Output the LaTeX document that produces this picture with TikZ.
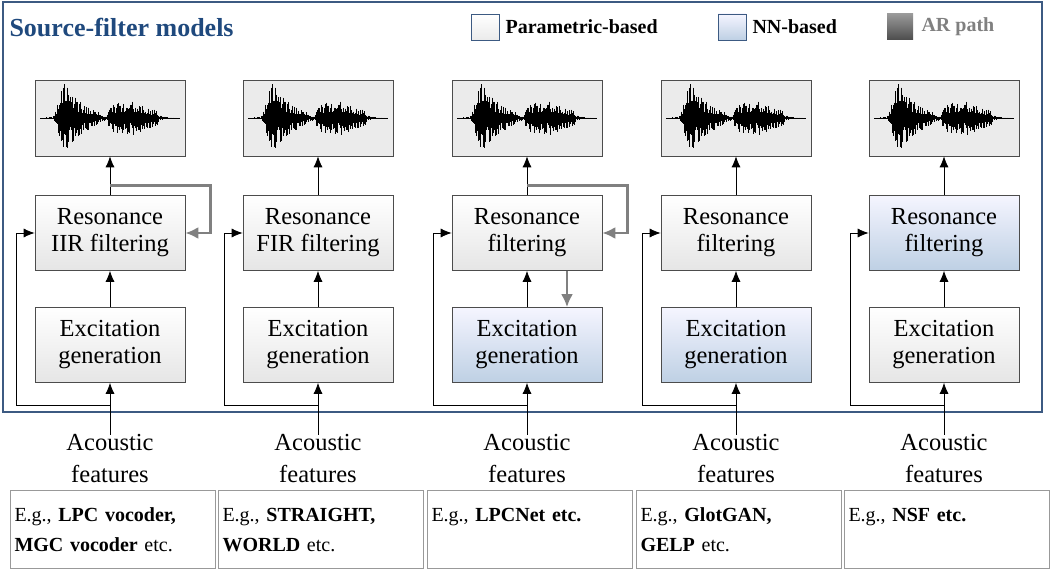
\documentclass[tikz,border=0pt]{standalone}
\usepackage{fontspec}
\setmainfont{Liberation Serif}
\newfontfamily\tms{Liberation Serif}
\usetikzlibrary{arrows.meta,calc}
\definecolor{ttl}{RGB}{31,73,125}
\definecolor{frm}{RGB}{60,90,130}
\definecolor{arg}{RGB}{128,128,128}
\tikzset{
  x=1pt,y=-1pt,
  pbox/.style={draw=black!70,line width=0.6pt,top color=white,bottom color=black!10,minimum width=150pt,minimum height=75pt,align=center,font=\tms\fontsize{24.5}{30}\selectfont,inner sep=0pt},
  nbox/.style={pbox,top color=blue!4!white,bottom color={rgb,255:red,190;green,208;blue,228}},
  wbox/.style={draw=black!70,line width=0.6pt,fill=black!8,minimum width=150pt,minimum height=76pt,inner sep=0pt},
  ebox/.style={draw=black!40,line width=1.2pt,minimum width=205pt,minimum height=78pt,text width=197pt,align=left,font=\tms\fontsize{20}{30}\selectfont,anchor=north,inner sep=3pt},
  arr/.style={-{Latex[length=11pt,width=9pt]},line width=0.8pt},
  gar/.style={-{Latex[length=13pt,width=12pt]},line width=2.6pt,draw=arg},
}
\newcommand{\mywave}[2]{%
  \pgfmathsetseed{7}
  \draw[line width=0.5pt] (#1-70,#2)--(#1+70,#2);
  \foreach \i in {0,...,130}{
    \ifnum\i<6 \def\env{1}\else
    \ifnum\i<18 \pgfmathsetmacro{\env}{36*(\i-6)/12}\else
    \ifnum\i<55 \pgfmathsetmacro{\env}{36*exp(-(\i-18)/22)}\else
    \ifnum\i<62 \def\env{3}\else
    \ifnum\i<112 \pgfmathsetmacro{\env}{13*exp(-((\i-80)/24)^2)+5}\else
    \pgfmathsetmacro{\env}{4*exp(-(\i-112)/6)}\fi\fi\fi\fi\fi
    \pgfmathsetmacro{\a}{\env*(0.3+0.7*rnd)}
    \pgfmathsetmacro{\b}{\env*(0.3+0.7*rnd)}
    \draw[line width=0.9pt] (#1-64+\i,#2-\a)--(#1-64+\i,#2+\b);
  }}
\begin{document}
\begin{tikzpicture}
\useasboundingbox (0,0) rectangle (1052,575);
\draw[frm,line width=1.8pt] (3,2) rectangle (1042,412);
\node[anchor=west,font=\tms\fontsize{26}{30}\selectfont\bfseries,text=ttl] (title) at (6,28) {Source-filter models};
\node[draw=frm,line width=0.8pt,top color=white,bottom color=black!8,minimum width=28pt,minimum height=26pt] (l1) at (485,27) {};
\node[anchor=west,font=\tms\fontsize{20}{24}\selectfont\bfseries] (l1t) at (502,27) {Parametric-based};
\node[draw=frm,line width=0.8pt,top color=blue!4!white,bottom color={rgb,255:red,190;green,208;blue,228},minimum width=28pt,minimum height=26pt] (l2) at (732,27) {};
\node[anchor=west,font=\tms\fontsize{20}{24}\selectfont\bfseries] (l2t) at (749,27) {NN-based};
\node[minimum width=26pt,minimum height=26pt,top color=black!40,bottom color=black!70] (l3) at (900,27) {};
\node[anchor=west,font=\tms\fontsize{20}{24}\selectfont\bfseries,text=arg] (l3t) at (918,27) {AR path};
\foreach \k/\cx/\ra/\rb/\rs/\es/\ex in {
 1/110/Resonance/IIR filtering/pbox/pbox/{E.g., \textbf{LPC vocoder,}\\\textbf{MGC vocoder} etc.},
 2/318/Resonance/FIR filtering/pbox/pbox/{E.g., \textbf{STRAIGHT,}\\\textbf{WORLD} etc.},
 3/527/Resonance/filtering/pbox/nbox/{E.g., \textbf{LPCNet etc.}\\\mbox{}},
 4/736/Resonance/filtering/pbox/nbox/{E.g., \textbf{GlotGAN,}\\\textbf{GELP} etc.},
 5/944/Resonance/filtering/nbox/pbox/{E.g., \textbf{NSF etc.}\\\mbox{}}}{
  \node[wbox] (w\k) at (\cx,118) {};
  \mywave{\cx}{118}
  \node[\rs] (r\k) at (\cx,233) {\ra\\[-3pt]\rb};
  \node[\es] (e\k) at (\cx,345) {Excitation\\[-3pt]generation};
  \node[align=center,font=\tms\fontsize{24.5}{32}\selectfont,inner sep=0pt] (a\k) at (\cx,459) {Acoustic\\features};
  \node[ebox] (x\k) at (\cx+3,490) {\ex};
  \coordinate (b\k) at (\cx,405);
  \draw[arr] (a\k.north) -- (e\k.south);
  \draw[arr] (e\k) -- (r\k);
  \draw[arr] (r\k) -- (w\k);
  \draw[arr] (b\k) -| ($(r\k.west)+(-18,0)$) -- (r\k.west);
}
\draw[gar] ($(r1.north)+(0,-10)$) -| ($(r1.east)+(25,0)$) -- (r1.east);
\draw[gar] ($(r3.north)+(0,-10)$) -| ($(r3.east)+(25,0)$) -- (r3.east);
\draw[gar] ($(r3.south)+(40,0)$) -- ($(e3.north)+(40,0)$);
\end{tikzpicture}
\end{document}
